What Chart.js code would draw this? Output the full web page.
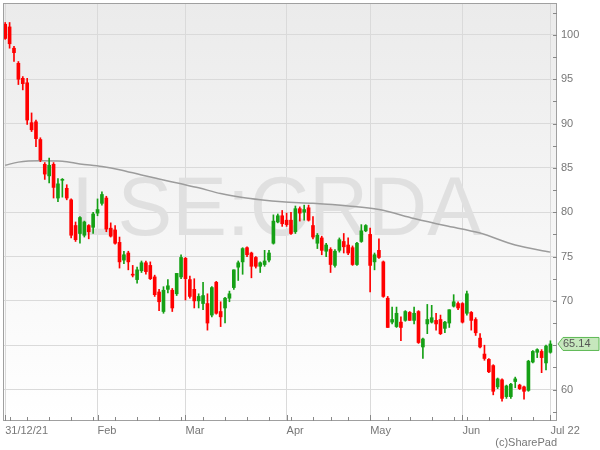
<!DOCTYPE html>
<html>
<head>
<meta charset="utf-8">
<script src="https://cdn.jsdelivr.net/npm/chart.js@4.4.1/dist/chart.umd.min.js"></script>
<style>
  body { margin: 0; background: #fff; }
  #wrap { width: 600px; height: 450px; }
</style>
</head>
<body>
<div id="wrap"><canvas id="chart"></canvas></div>
<script>
// trading days, Dec 31 2021 to Jul 1 2022 (LSE holidays left out)
const tradingDays = {
  '2021-12': [31],
  '2022-01': [4,5,6,7,10,11,12,13,14,17,18,19,20,21,24,25,26,27,28,31],
  '2022-02': [1,2,3,4,7,8,9,10,11,14,15,16,17,18,21,22,23,24,25,28],
  '2022-03': [1,2,3,4,7,8,9,10,11,14,15,16,17,18,21,22,23,24,25,28,29,30,31],
  '2022-04': [1,4,5,6,7,8,11,12,13,14,19,20,21,22,25,26,27,28,29],
  '2022-05': [3,4,5,6,9,10,11,12,13,16,17,18,19,20,23,24,25,26,27,30,31],
  '2022-06': [1,6,7,8,9,10,13,14,15,16,17,20,21,22,23,24,27,28,29,30],
  '2022-07': [1]
};

const opens = [
  101.2,100.9,98.5,96.8,95.1,94.6,90.1,90.2,88.2,85.4,
  84.1,85.4,81.6,83.6,82.7,81.4,78.5,77.6,77.4,78.5,
  78.3,79.9,81.0,81.6,78.2,78.0,76.6,74.6,75.4,73.0,
  72.4,73.4,74.3,74.0,72.7,71.0,68.8,71.3,71.2,70.8,
  72.7,74.8,72.4,71.3,70.0,69.7,69.7,68.4,72.1,68.8,
  69.2,70.3,71.5,73.8,74.4,76.0,75.4,74.9,73.9,74.1,
  74.6,76.5,78.9,79.6,79.1,79.1,77.8,80.4,80.0,80.5,
  78.5,76.5,77.1,75.6,75.8,74.0,75.7,76.7,76.3,76.0,
  74.1,76.7,77.9,77.5,74.4,75.7,74.4,70.3,67.6,67.1,
  67.6,67.8,68.7,67.8,68.8,64.8,67.4,67.6,67.8,67.9,
  66.9,67.5,69.4,69.7,69.7,68.6,68.7,67.9,65.8,64.0,
  63.4,62.7,60.3,61.1,59.2,59.2,60.9,60.5,60.3,59.9,
  63.1,64.2,64.3,63.0,64.2
];
const highs = [
  101.4,101.4,98.7,97.0,95.3,95.1,91.2,90.4,88.4,85.6,
  86.1,85.6,83.8,83.8,83.1,81.5,78.9,79.5,79.0,78.6,
  80.0,81.5,82.3,81.8,78.8,78.5,77.2,75.6,75.6,74.0,
  73.8,74.5,74.5,74.4,72.9,71.3,71.6,72.4,71.4,73.1,
  75.2,74.9,72.8,72.5,70.8,72.1,70.8,71.6,72.2,69.9,
  70.4,71.1,73.5,74.5,76.0,76.1,75.5,75.0,74.4,75.7,
  75.7,79.7,79.8,80.2,79.9,80.0,80.7,80.6,80.8,80.8,
  79.5,77.6,77.3,76.5,76.0,75.8,77.1,77.6,77.1,76.2,
  76.6,78.6,78.6,78.2,75.4,77.0,74.5,70.5,69.3,69.3,
  68.2,68.9,68.8,69.3,68.9,65.8,69.6,69.5,68.6,68.4,
  67.7,69.0,70.7,69.9,69.8,71.1,68.8,68.1,66.3,65.0,
  63.5,62.8,61.3,61.2,60.5,60.7,61.4,60.6,60.4,63.3,
  64.4,64.6,64.5,65.0,65.5
];
const lows = [
  99.5,98.5,97.0,94.4,93.8,89.9,89.1,87.4,85.7,83.7,
  83.3,81.6,81.2,81.7,81.4,77.1,76.7,76.5,77.2,77.0,
  77.6,79.6,80.8,77.8,77.2,76.4,73.7,74.2,73.5,72.7,
  72.0,73.2,73.0,72.4,70.5,68.9,68.6,70.9,68.8,70.6,
  72.5,70.1,70.3,69.2,69.2,69.0,66.7,68.2,68.5,67.1,
  67.5,69.9,71.3,72.3,73.0,75.0,72.6,73.7,73.2,73.9,
  74.4,76.4,78.8,78.4,78.4,77.5,77.6,79.0,79.1,79.0,
  77.0,75.9,75.2,75.0,73.2,73.8,75.5,75.4,75.2,74.0,
  74.0,76.6,77.8,71.0,73.5,74.8,70.4,67.0,67.4,67.0,
  65.5,67.7,67.8,67.4,65.2,63.5,66.3,67.5,66.7,66.2,
  66.4,67.0,69.3,69.0,67.5,68.4,66.7,66.1,64.7,63.3,
  61.9,59.4,60.1,58.7,59.0,59.0,60.2,60.0,58.9,59.8,
  63.0,63.6,61.9,62.2,64.1
];
const closes = [
  99.6,99.0,98.0,95.0,94.5,90.4,89.3,88.3,85.9,84.3,
  85.3,82.8,83.2,83.7,81.6,77.4,76.9,79.4,78.9,77.8,
  79.8,80.3,82.0,78.1,77.3,76.5,74.4,75.2,74.4,72.9,
  73.5,74.3,73.3,72.5,70.7,69.9,71.2,71.7,69.2,73.1,
  74.9,72.5,70.5,70.0,70.5,70.6,67.5,71.5,68.6,68.2,
  70.3,70.8,73.5,74.3,75.9,75.2,73.9,73.9,74.3,74.5,
  75.4,79.0,79.6,78.7,78.6,77.6,80.4,79.9,80.3,79.1,
  77.2,77.4,75.7,76.3,74.1,75.6,76.9,76.1,75.4,74.1,
  76.5,77.9,78.5,74.0,75.2,74.9,70.5,67.0,67.9,68.6,
  67.0,68.8,67.8,68.6,65.3,65.7,67.9,68.1,67.4,66.3,
  67.6,69.0,69.9,69.2,67.6,70.8,67.8,66.4,64.8,63.5,
  62.0,59.8,61.2,59.0,60.4,60.6,61.2,60.1,59.8,63.2,
  64.3,64.5,63.6,64.9,65.14
];

// moving average at these candle positions
const maIdx = [0,3,8,13,17,22,26,31,35,40,44,49,54,58,63,70,78,85,93,100,108,116,124];
const maVal = [85.3,85.65,85.8,85.75,85.45,85.15,84.8,84.2,83.75,83.2,82.75,82.1,81.65,81.4,81.17,81.0,80.7,80.3,79.3,78.5,77.65,76.3,75.5];

const monthTickIdx = [0, 21, 41, 64, 83, 104, 124];
const monthTickLabels = ['31/12/21', 'Feb', 'Mar', 'Apr', 'May', 'Jun', 'Jul 22'];
const priceTicks = [60, 65, 70, 75, 80, 85, 90, 95, 100];

const dates = Object.entries(tradingDays).flatMap(([m, days]) =>
  days.map(d => m + '-' + String(d).padStart(2, '0')));
dates.push(''); // spare slot at the right edge

// first trading day of each week gets a small tick
const weekIdx = [];
for (let i = 1; i < closes.length; i++) {
  if (new Date(dates[i]).getUTCDay() < new Date(dates[i - 1]).getUTCDay()) weekIdx.push(i);
}

const maLine = dates.map(() => null);
maIdx.forEach((i, k) => { maLine[i] = maVal[k]; });

const UP = '#15a015', DOWN = '#ff0000';
const colours = opens.map((o, i) => closes[i] >= o ? UP : DOWN);

const FONT = '"Liberation Sans", Arial, sans-serif';
Chart.defaults.font.family = FONT;

const backdrop = {
  id: 'backdrop',
  beforeDraw(chart) {
    const { ctx, chartArea: a } = chart;
    const g = ctx.createLinearGradient(0, a.top, 0, a.bottom);
    g.addColorStop(0, '#ebebeb');
    g.addColorStop(1, '#ffffff');
    ctx.save();
    ctx.fillStyle = g;
    ctx.fillRect(a.left, a.top, a.width, a.height);
    ctx.restore();
  },
  beforeDatasetsDraw(chart) {
    const { ctx } = chart;
    ctx.save();
    ctx.font = '84px ' + FONT;
    const w = ctx.measureText('LSE:CRDA').width;
    ctx.translate(72, 235);
    ctx.scale(410 / w, 1);
    ctx.fillStyle = '#e0e0e0';
    ctx.fillText('LSE:CRDA', 0, 0);
    ctx.restore();
  },
  afterDraw(chart) {
    const { ctx, chartArea: a, scales: { x, y } } = chart;
    ctx.save();
    ctx.strokeStyle = '#a0a0a0';
    ctx.lineWidth = 1;
    ctx.strokeRect(a.left + 0.5, a.top + 0.5, a.width - 1, a.height - 1);

    // inward tick marks
    ctx.strokeStyle = '#888';
    ctx.beginPath();
    weekIdx.concat(monthTickIdx).forEach(i => {
      const px = Math.round(x.getPixelForValue(i)) + 0.5;
      const len = monthTickIdx.includes(i) ? 6 : 4;
      ctx.moveTo(px, a.bottom);
      ctx.lineTo(px, a.bottom - len);
    });
    for (let v = 57.5; v < 103.6; v += 2.5) {
      const py = Math.round(y.getPixelForValue(v)) + 0.5;
      ctx.moveTo(a.right, py);
      ctx.lineTo(a.right - 4, py);
    }
    ctx.stroke();

    // last price tag
    const last = closes[closes.length - 1];
    const py = y.getPixelForValue(last);
    const x0 = a.right + 1;
    ctx.beginPath();
    ctx.moveTo(x0, py);
    ctx.lineTo(x0 + 5, py - 6.5);
    ctx.lineTo(599, py - 6.5);
    ctx.lineTo(599, py + 6.5);
    ctx.lineTo(x0 + 5, py + 6.5);
    ctx.closePath();
    ctx.fillStyle = '#c6e7bd';
    ctx.fill();
    ctx.strokeStyle = '#5fb955';
    ctx.stroke();
    ctx.fillStyle = '#555';
    ctx.font = '11px ' + FONT;
    ctx.textBaseline = 'middle';
    ctx.fillText(last.toFixed(2), x0 + 5, py + 0.5);

    ctx.fillStyle = '#777';
    ctx.textAlign = 'right';
    ctx.fillText('(c)SharePad', a.right, 443);
    ctx.restore();
  }
};

new Chart('chart', {
  type: 'bar',
  data: {
    labels: dates,
    datasets: [
      {
        label: 'Average',
        type: 'line',
        data: maLine,
        borderColor: '#9c9c9c',
        borderWidth: 1.5,
        pointRadius: 0,
        spanGaps: true,
        cubicInterpolationMode: 'monotone',
        order: 3
      },
      {
        label: 'Range',
        data: lows.map((l, i) => [l, highs[i]]),
        backgroundColor: colours,
        barThickness: 1,
        grouped: false,
        order: 2
      },
      {
        label: 'Body',
        data: opens.map((o, i) => [o, closes[i]]),
        backgroundColor: colours,
        barThickness: 3,
        minBarLength: 1,
        grouped: false,
        order: 1
      }
    ]
  },
  options: {
    responsive: true,
    maintainAspectRatio: false,
    animation: false,
    layout: { padding: { top: 3, left: 3, right: 0, bottom: 0 } },
    plugins: { legend: { display: false }, tooltip: { enabled: false } },
    scales: {
      x: {
        offset: true,
        grid: { offset: false, color: '#dadada', drawTicks: false },
        border: { display: false },
        afterBuildTicks: s => { s.ticks = monthTickIdx.map(v => ({ value: v })); },
        ticks: {
          autoSkip: false,
          maxRotation: 0,
          align: 'start',
          padding: 3,
          color: '#777',
          font: { size: 11 },
          callback: (v, i) => monthTickLabels[i]
        },
        afterFit: s => { s.height = 29; s.paddingLeft = 0; s.paddingRight = 0; }
      },
      y: {
        position: 'right',
        min: 56.45,
        max: 103.6,
        afterBuildTicks: s => { s.ticks = priceTicks.map(v => ({ value: v })); },
        grid: { color: '#dadada', drawTicks: false },
        border: { display: false },
        ticks: { padding: 4, color: '#777', font: { size: 11 }, callback: v => v },
        afterFit: s => { s.width = 43; s.paddingTop = 0; s.paddingBottom = 0; }
      }
    }
  },
  plugins: [backdrop]
});
</script>
</body>
</html>
